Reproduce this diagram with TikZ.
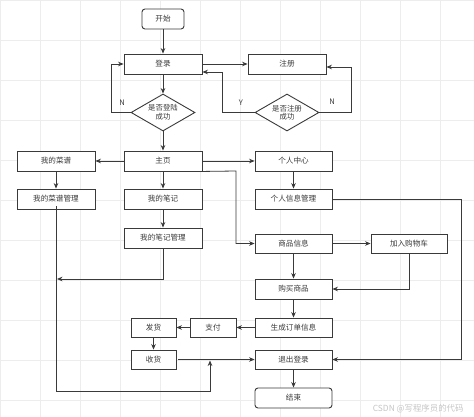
\documentclass[tikz,border=0pt]{standalone}
\usepackage{fontspec}
\setmainfont{Noto Sans CJK SC}
\usetikzlibrary{shapes.geometric,arrows.meta}
\definecolor{ln}{HTML}{3A3A3A}
\tikzset{
  box/.style={draw=ln,line width=0.9pt,fill=white,rectangle,minimum width=78pt,minimum height=20pt,inner sep=0pt,font=\fontsize{7.6}{9}\selectfont,text=ln},
  sbox/.style={box,minimum width=46pt,minimum height=19pt},
  term/.style={box,rounded corners=3pt},
  dec/.style={draw=ln,line width=0.9pt,fill=white,diamond,aspect=1.73,minimum width=64pt,minimum height=37pt,inner sep=0pt,align=center,font=\fontsize{7.4}{8.6}\selectfont,text=ln},
  conn/.style={draw=ln,line width=0.8pt,-{Stealth[length=5.5pt,width=4.6pt]}},
  lbl/.style={font=\fontsize{7.6}{9}\selectfont,text=ln}
}
\begin{document}
\begin{tikzpicture}[x=1pt,y=-1pt]
\useasboundingbox (0,0) rectangle (474,417);
\fill[white] (0,0) rectangle (474,417);
\draw[gray!8,line width=0.5pt,step=8pt] (0,-417) grid (474,0);
\foreach \i in {0,40,...,470} {\draw[gray!14,line width=0.5pt] (\i,0) -- (\i,417);}
\foreach \i in {0,40,...,410} {\draw[gray!14,line width=0.5pt] (0,\i) -- (474,\i);}

\node[term,minimum width=42pt] (start) at (163,19) {开始};
\node[box] (login) at (163,64) {登录};
\node[dec] (dlogin) at (163,112.5) {是否登陆\\成功};
\node[box] (reg) at (287,64) {注册};
\node[dec] (dreg) at (287,112.5) {是否注册\\成功};
\node[box] (home) at (163,161) {主页};
\node[box] (recipe) at (56,161) {我的菜谱};
\node[box] (recipem) at (56,199) {我的菜谱管理};
\node[box] (note) at (163,199) {我的笔记};
\node[box] (notem) at (163,238) {我的笔记管理};
\node[box,minimum width=77pt] (center) at (293.5,161) {个人中心};
\node[box,minimum width=77pt] (info) at (293.5,199) {个人信息管理};
\node[box,minimum width=77pt,minimum height=19pt] (goods) at (293.5,243.5) {商品信息};
\node[box,minimum width=76pt,minimum height=19pt] (cart) at (409,243.5) {加入购物车};
\node[box,minimum width=77pt] (buy) at (293.5,289) {购买商品};
\node[box,minimum width=77pt,minimum height=19pt] (order) at (293.5,327.5) {生成订单信息};
\node[sbox] (pay) at (213,327.5) {支付};
\node[sbox,minimum width=45pt] (ship) at (153.5,327.5) {发货};
\node[sbox,minimum width=45pt] (recv) at (153.5,359.5) {收货};
\node[box,minimum width=77pt,minimum height=19pt] (logout) at (293.5,359.5) {退出登录};
\node[term,minimum width=77pt] (end) at (293.5,398) {结束};

\coordinate (m1) at (210,360.5);
\coordinate (m2) at (57,279);

\draw[conn] (start) -- (login);
\draw[conn] (login) -- (dlogin);
\draw[conn] (dlogin) -- (home);
\draw[conn] (dlogin.west) -- (111,112.5) -- (111,64) -- (login.west);
\node[lbl] (ln) at (122,103) {N};
\draw[conn] (login.east) -- (reg.west);
\draw[conn] (dreg.east) -- (351,112.5) -- (351,67) -- (reg.east |- 0,67);
\node[lbl] (rn) at (332,102) {N};
\draw[conn] (dreg.west) -- (222,112.5) -- (222,72) -- (login.east |- 0,72);
\node[lbl] (ry) at (241,103) {Y};
\draw[conn] (home) -- (recipe);
\draw[conn] (recipe) -- (recipem);
\draw[conn] (home) -- (note);
\draw[conn] (note) -- (notem);
\draw[conn] (home) -- (center);
\draw[conn] (home.south east) -- (236,171) -- (236,243.5) -- (goods.west);
\draw[conn] (center) -- (info);
\draw[conn] (info.east) -- (461,199) -- (461,359.5) -- (logout.east);
\draw[conn] (goods) -- (cart);
\draw[conn] (goods) -- (buy);
\draw[conn] (cart.south) -- (409,289) -- (buy.east);
\draw[conn] (buy) -- (order);
\draw[conn] (order) -- (pay);
\draw[conn] (pay) -- (ship);
\draw[conn] (ship) -- (recv);
\draw[conn] ([xshift=2pt]recv.east) -- (logout.west);
\draw[conn] ([yshift=3pt]recipem.south) -- (56,391) -- (210,391) -- (m1);
\draw[conn] (notem.south) -- (163,279) -- (m2);
\draw[conn] (logout) -- (end);

\node[text=gray!45,font=\fontsize{8.4}{10}\selectfont,anchor=east] (wm) at (467,409) {CSDN @写程序员的代码};
\end{tikzpicture}
\end{document}
